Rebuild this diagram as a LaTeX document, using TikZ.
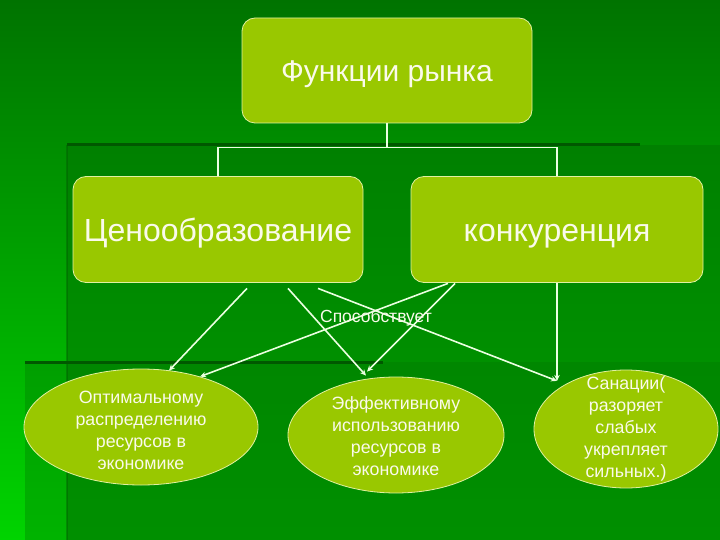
\documentclass[tikz,border=0pt]{standalone}
\usepackage{fontspec}
\setmainfont{Liberation Sans}
\usetikzlibrary{shapes.geometric,arrows.meta,calc}
\definecolor{boxfill}{RGB}{153,200,0}
\definecolor{boxline}{RGB}{225,240,160}
\definecolor{txt}{RGB}{250,250,235}
\definecolor{bgdark}{RGB}{0,115,0}
\definecolor{bglight}{RGB}{0,212,0}
\definecolor{panel}{RGB}{0,120,0}
\definecolor{panelline}{RGB}{0,88,0}
\definecolor{conn}{RGB}{235,255,225}
\begin{document}
\begin{tikzpicture}[x=1pt,y=-1pt,
  rbox/.style={rectangle, rounded corners=13pt, fill=boxfill, draw=boxline, line width=0.8pt, text=txt, inner sep=0pt, text height=23pt, text depth=0pt},
  oval/.style={ellipse, fill=boxfill, draw=boxline, line width=0.8pt, inner sep=0pt},
  ovaltext/.style={text=txt, align=center, inner sep=0pt, font=\fontsize{17.8}{22}\selectfont},
  tree/.style={draw=conn, line width=1.6pt},
  arr/.style={draw=conn, line width=1.6pt, -{Stealth[length=6pt,width=5.5pt]}},
]
% background
\useasboundingbox (0,0) rectangle (720,540);
\shade[shading angle=-30, top color=bgdark, bottom color=bglight] (0,0) rectangle (720,540);
\fill[panel, opacity=0.6] (67,145) rectangle (720,540);
\fill[panel, opacity=0.35] (25,362) rectangle (720,540);
\draw[panelline, line width=3pt] (67,145) -- (640,145);
\draw[panelline, line width=3pt] (25,362) -- (383,362);
\draw[panelline, line width=2pt, opacity=0.4] (67,145) -- (67,540);

% boxes
\node[rbox, minimum width=290pt, minimum height=105pt, font=\fontsize{30}{36}\selectfont] (top) at (387,70.5) {Функции рынка};
\node[rbox, minimum width=290pt, minimum height=106pt, font=\fontsize{32}{38}\selectfont] (left) at (218,229.5) {Ценообразование};
\node[rbox, minimum width=292pt, minimum height=106pt, font=\fontsize{32}{38}\selectfont] (right) at (557,229.5) {конкуренция};

% ellipses
\node[oval, minimum width=234pt, minimum height=116pt] (e1) at (141,427) {};
\node[ovaltext] (e1t) at ($(e1.center)+(0,3)$) {Оптимальному\\распределению\\ресурсов в\\экономике};
\node[oval, minimum width=216pt, minimum height=116pt] (e2) at (396,435) {};
\node[ovaltext] (e2t) at ($(e2.center)+(0,1)$) {Эффективному\\использованию\\ресурсов в\\экономике};
\node[oval, minimum width=184pt, minimum height=118pt] (e3) at (626,429) {};
\node[ovaltext] (e3t) at ($(e3.center)+(0,0)$) {Санации(\\разоряет\\слабых\\укрепляет\\сильных.)};

% tree
\coordinate (tj) at ($(top.south)+(0,24)$);
\draw[tree] (top.south) -- (tj);
\draw[tree] (left.north) |- (tj) -| (right.north);

% arrow end points
\coordinate (s1) at ($(left.south)+(29,5.5)$);
\coordinate (s2) at ($(left.south)+(70,5.5)$);
\coordinate (s3) at ($(left.south)+(100,5.5)$);
\coordinate (s4) at ($(right.south)+(-109,0.5)$);
\coordinate (s5) at ($(right.south)+(-102,0.5)$);
\coordinate (t1) at ($(e1.north)+(28,2)$);
\coordinate (t1b) at ($(e1.north)+(59,8)$);
\coordinate (t2) at ($(e2.north)+(-30,-1)$);
\coordinate (t2b) at ($(e2.north)+(-29,-5)$);
\coordinate (t3) at ($(right.south)+(0,98)$);

\draw[arr] (s1) -- (t1);
\draw[arr] (s2) -- (t2);
\draw[arr] (s3) -- (t3);
\draw[arr] (s4) -- (t1b);
\draw[arr] (s5) -- (t2b);
\draw[arr] (right.south) -- (t3);

\node[text=txt, font=\fontsize{17.5}{20}\selectfont, inner sep=0pt] (lbl) at (376,318) {Способствует};
\end{tikzpicture}
\end{document}
